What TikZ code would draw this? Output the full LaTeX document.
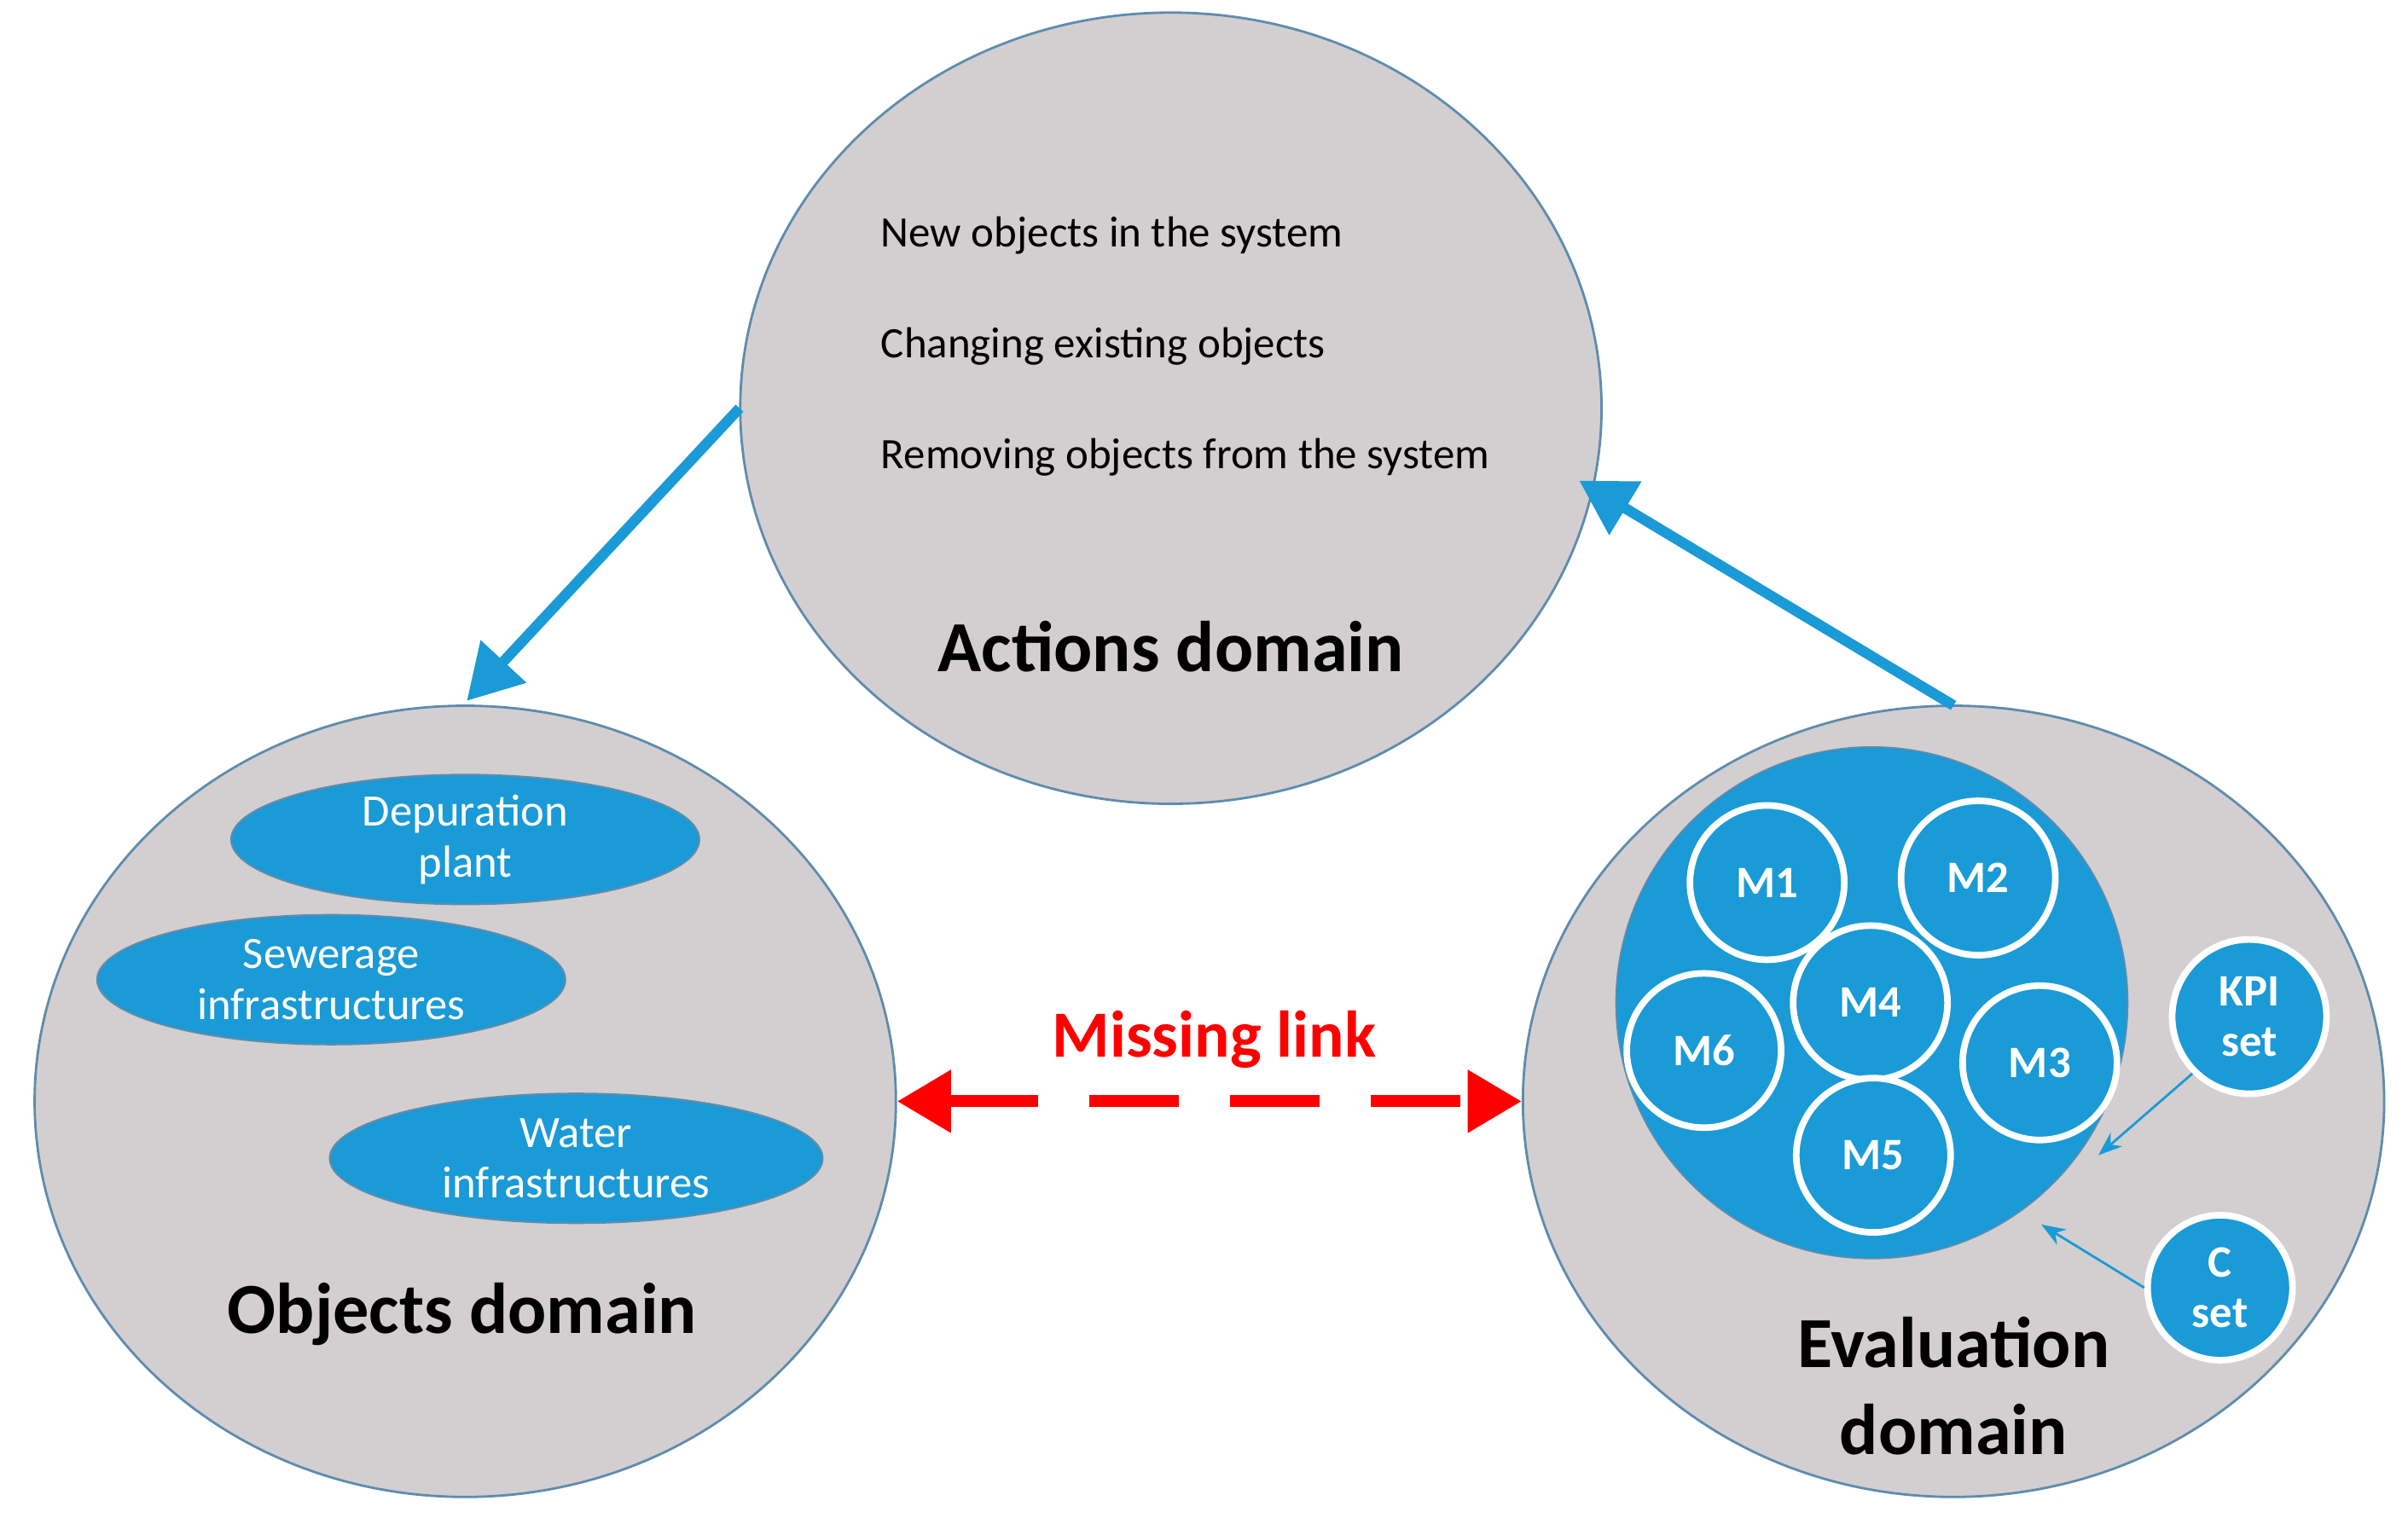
\documentclass[tikz,border=0pt]{standalone}
\usepackage{fontspec}
\setmainfont{Carlito}
\usetikzlibrary{arrows.meta,shapes.geometric}
\definecolor{gfill}{HTML}{D3CFD0}
\definecolor{gline}{HTML}{5E8CAE}
\definecolor{bl}{HTML}{1A9AD6}
\begin{document}
\begin{tikzpicture}[x=0.01806cm,y=-0.01806cm,
  dom/.style={ellipse,draw=gline,line width=0.8pt,fill=gfill,minimum width=10.1cm,minimum height=9.28cm,inner sep=0pt},
  obj/.style={ellipse,draw=gline,line width=0.6pt,fill=bl,text=white,font=\fontsize{15}{17}\selectfont,align=center,inner sep=0pt,minimum height=1.52cm},
  mc/.style={circle,draw=white,line width=2.2pt,fill=bl,text=white,font=\bfseries\fontsize{15}{17}\selectfont,align=center,minimum size=1.81cm,inner sep=0pt},
  big/.style={font=\bfseries\fontsize{24}{29}\selectfont,align=center},
  txt/.style={font=\fontsize{14.5}{17}\selectfont,anchor=west}]
\useasboundingbox (0,0) rectangle (1563,985);
\node[dom] (act) at (760,265) {};
\node[dom] (objd) at (302,715) {};
\node[dom] (evd) at (1268,715) {};
\node[txt] (t1) at (565,153) {New objects in the system};
\node[txt] (t2) at (565,225) {Changing existing objects};
\node[txt] (t3) at (565,297) {Removing objects from the system};
\node[big] (an) at (760,420) {Actions domain};
\node[big] (on) at (300,853) {Objects domain};
\node[big] (en) at (1268,900) {Evaluation\\domain};
\node[obj,minimum width=5.49cm] (e1) at (302,545) {Depuration\\plant};
\node[obj,minimum width=5.49cm] (e2) at (215,636) {Sewerage\\infrastructures};
\node[obj,minimum width=5.78cm] (e3) at (374,752) {Water\\infrastructures};
\node[circle,fill=bl,draw=gline,line width=0.5pt,minimum size=6.0cm,inner sep=0pt] (core) at (1215,651) {};
\node[mc] (m1) at (1147,573) {M1};
\node[mc] (m2) at (1284,570) {M2};
\node[mc] (m4) at (1214,651) {M4};
\node[mc] (m6) at (1106,682) {M6};
\node[mc] (m3) at (1324,690) {M3};
\node[mc] (m5) at (1216,750) {M5};
\node[mc] (kpi) at (1460,660) {KPI\\set};
\node[mc,minimum size=1.7cm] (cs) at (1441,836) {C\\set};
\coordinate (k1) at (1362,750);
\coordinate (c1) at (1325,795);
\draw[bl,line width=0.8pt,-{Stealth[length=8pt]}] (kpi.south west) -- (k1);
\draw[bl,line width=0.8pt,-{Stealth[length=8pt]}] (cs.west) -- (c1);
\coordinate (a1) at (480,265);
\coordinate (a2) at (303,455);
\coordinate (b1) at (1268,458);
\coordinate (b2) at (1025,312);
\draw[bl,line width=3.5pt,-{Triangle[length=18pt,width=20pt]}] (a1) -- (a2);
\draw[bl,line width=3.5pt,-{Triangle[length=18pt,width=20pt]}] (b1) -- (b2);
\draw[red,line width=4pt,dash pattern=on 30pt off 17pt,{Triangle[length=18pt,width=20pt]}-{Triangle[length=18pt,width=20pt]}] (objd.east) -- (evd.west);
\node[red,font=\bfseries\fontsize{22}{26}\selectfont] (ml) at (788,675) {Missing link};
\end{tikzpicture}
\end{document}
